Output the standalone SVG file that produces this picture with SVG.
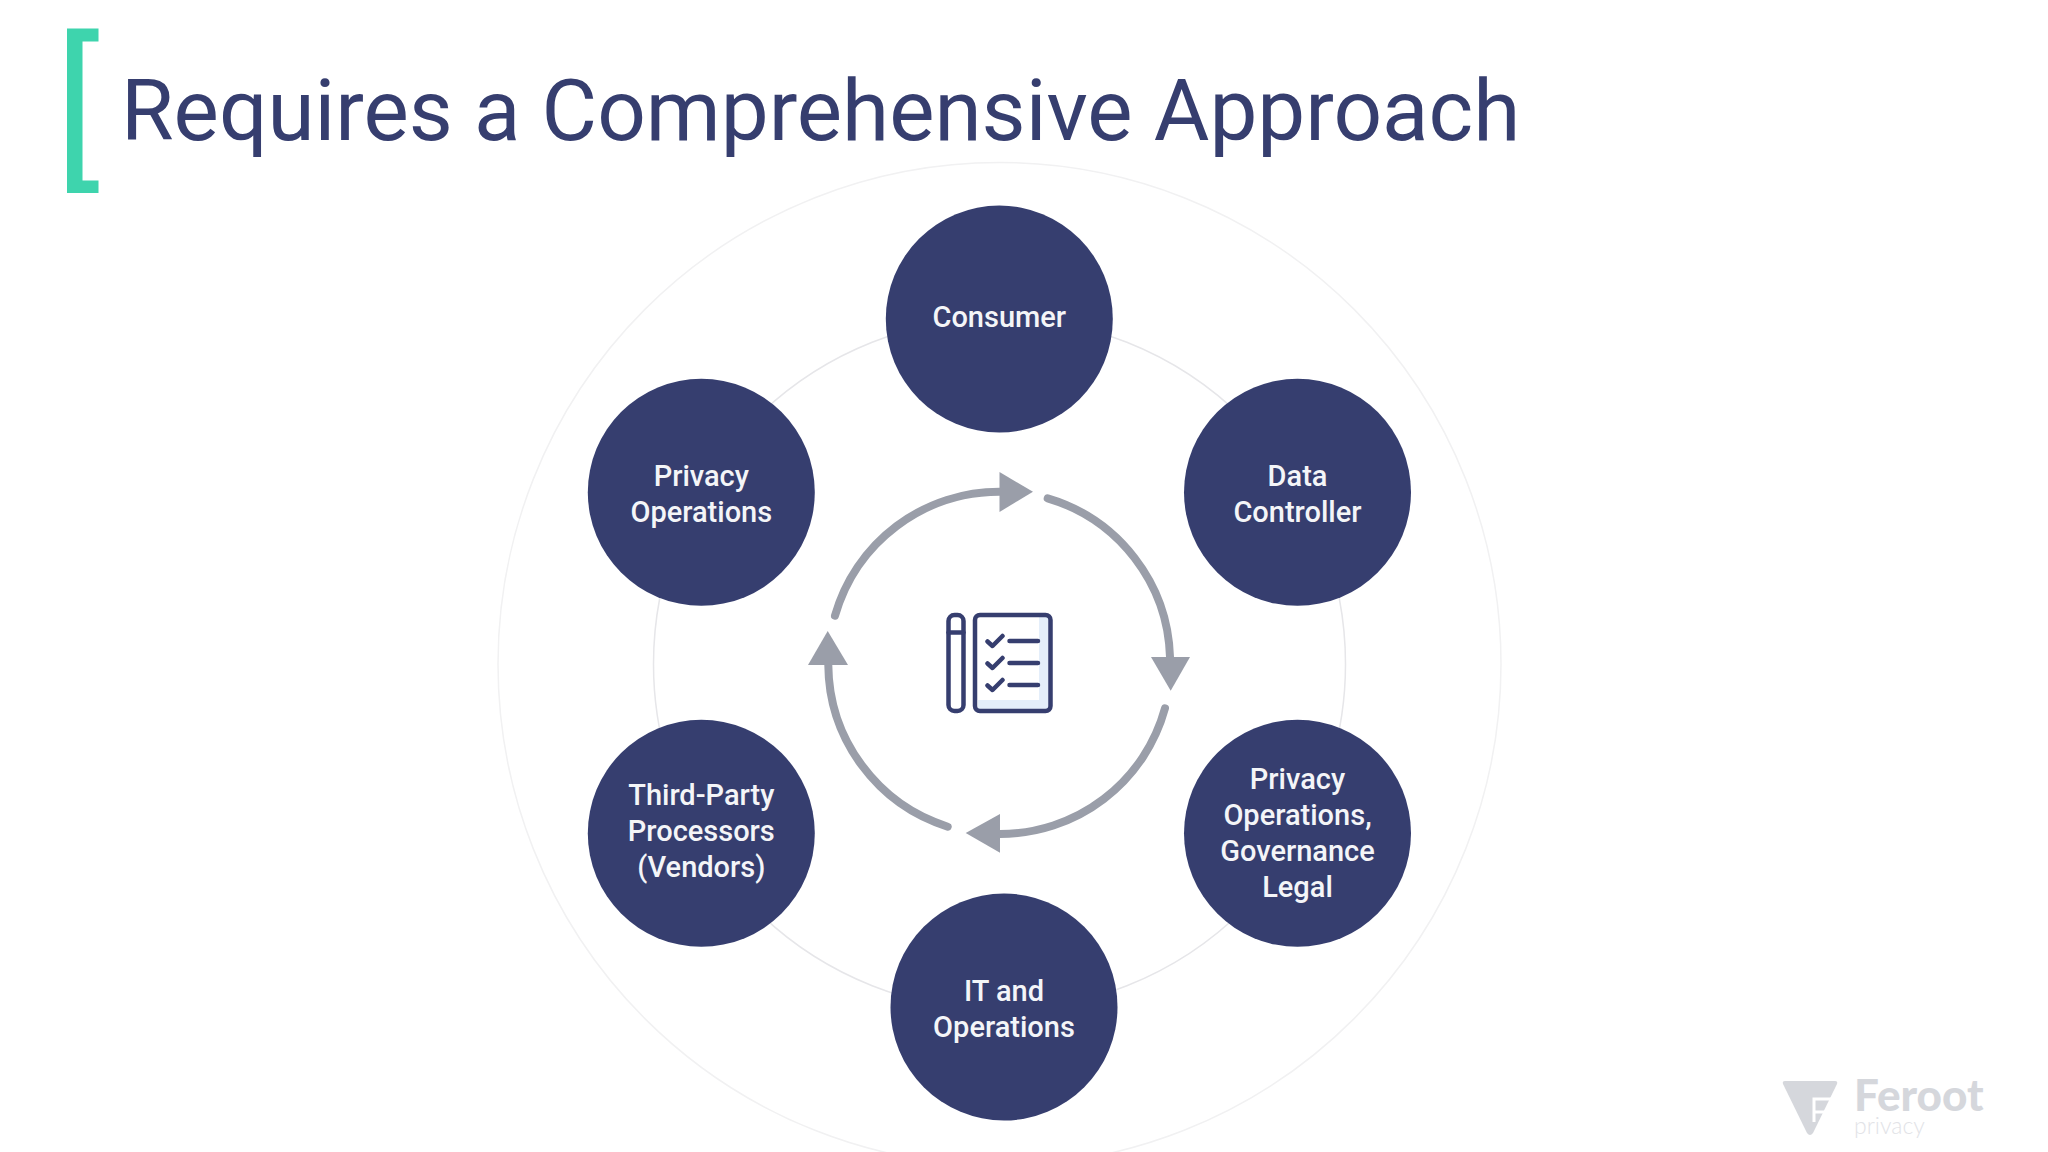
<svg xmlns="http://www.w3.org/2000/svg" width="2048" height="1152" viewBox="0 0 2048 1152">
<style>
.n{fill:#363e6f}
.l{font-family:Roboto,"Liberation Sans",sans-serif;font-size:29px;font-weight:500;fill:#f4f5f8;text-anchor:middle}
.a{fill:none;stroke:#9a9ea9;stroke-width:8;stroke-linecap:round}
.h{fill:#9a9ea9}
.i{fill:none;stroke:#363e6f;stroke-width:4.500;stroke-linecap:round;stroke-linejoin:round}
.r{fill:none;stroke-width:1.5}
</style>
<rect width="2048" height="1152" fill="#fff"/>
<path id="bracket" d="M67 28.500H98.500V41.500H82.500V180.500H98.500V193H67Z" fill="#3ed4ad"/>
<text id="title" x="121" y="140" font-family="Roboto,'Liberation Sans',sans-serif" font-size="85.400" fill="#363e6f">Requires a Comprehensive Approach</text>
<g id="rings">
<circle class="r" cx="999.500" cy="664" r="501.500" stroke="#f1f1f2"/>
<circle class="r" cx="999.500" cy="664" r="346" stroke="#e6e6e9"/>
</g>
<g id="connectors">
<path class="a" d="M835 615.700A171 171 0 0 1 1000 491.700"/>
<path class="h" d="M999.500 472L1033 491.700L999.500 512Z"/>
<path class="a" d="M1047.700 498.300A171 171 0 0 1 1170 657"/>
<path class="h" d="M1151 657H1190L1170.700 690.700Z"/>
<path class="a" d="M1165 708.300A171 171 0 0 1 1000 834"/>
<path class="h" d="M1000 814V852.700L965.700 833Z"/>
<path class="a" d="M947.700 826.700A171 171 0 0 1 828.300 665"/>
<path class="h" d="M808 665H848L827.700 631Z"/>
</g>
<g id="center-icon">
<path d="M1039 615H1050V711H978V700H1039Z" fill="#e4eefa"/>
<rect class="i" x="948.500" y="615" width="15" height="96" rx="6"/>
<path class="i" d="M948.500 632.500H963.500"/>
<rect class="i" x="975" y="615" width="75.500" height="96" rx="5"/>
<path class="i" d="M987.500 641.500L992.500 646L1002.500 636M1009.500 641H1038M987.500 663.500L992.500 668L1002.500 658M1009.500 663H1038M987.500 685.500L992.500 690L1002.500 680M1009.500 685H1038"/>
</g>
<g id="consumer"><circle class="n" cx="999.300" cy="319" r="113.500"/><text class="l" x="999.300" y="327.300">Consumer</text></g>
<g id="data-controller"><circle class="n" cx="1297.500" cy="492.300" r="113.500"/><text class="l"><tspan x="1297.500" y="485.500">Data</tspan><tspan x="1297.500" y="521.500">Controller</tspan></text></g>
<g id="privacy-operations-governance-legal"><circle class="n" cx="1297.500" cy="833.300" r="113.500"/><text class="l"><tspan x="1297.500" y="788.500">Privacy</tspan><tspan x="1297.500" y="824.500">Operations,</tspan><tspan x="1297.500" y="860.500">Governance</tspan><tspan x="1297.500" y="896.500">Legal</tspan></text></g>
<g id="it-and-operations"><circle class="n" cx="1004" cy="1007" r="113.500"/><text class="l"><tspan x="1004" y="1000.500">IT and</tspan><tspan x="1004" y="1036.500">Operations</tspan></text></g>
<g id="third-party-processors"><circle class="n" cx="701.300" cy="833.300" r="113.500"/><text class="l"><tspan x="701.300" y="804.500">Third-Party</tspan><tspan x="701.300" y="840.500">Processors</tspan><tspan x="701.300" y="876.500">(Vendors)</tspan></text></g>
<g id="privacy-operations"><circle class="n" cx="701.300" cy="492.300" r="113.500"/><text class="l"><tspan x="701.300" y="485.500">Privacy</tspan><tspan x="701.300" y="521.500">Operations</tspan></text></g>
<g id="logo">
<path d="M1785 1081H1835Q1838 1081 1837 1084L1813 1133Q1810 1137 1807 1133L1783 1084Q1782 1081 1785 1081Z" fill="#d5d7dc"/>
<path d="M1836 1099H1814V1122M1814 1112H1830" fill="none" stroke="#fff" stroke-width="3"/>
<text x="1854" y="1111" font-family="Lato,'Liberation Sans',sans-serif" font-size="44" font-weight="900" fill="#d5d7dc">Feroot</text>
<text x="1854" y="1134" font-family="Lato,'Liberation Sans',sans-serif" font-size="23" font-weight="300" fill="#e2e3e7">privacy</text>
</g>
</svg>
